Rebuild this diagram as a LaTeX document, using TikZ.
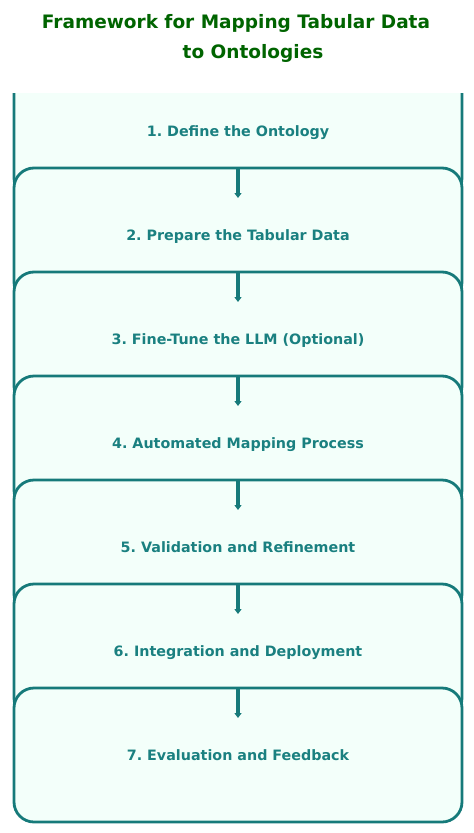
\documentclass[tikz,border=0pt]{standalone}
\usepackage{fontspec}
\setmainfont{DejaVu Sans}
\usepackage{tikz}
\usetikzlibrary{arrows.meta,positioning}
\definecolor{stageline}{RGB}{22,122,122}
\definecolor{stagetext}{RGB}{26,128,128}
\definecolor{stagefill}{RGB}{243,255,250}
\definecolor{titlegreen}{RGB}{0,100,0}
\frenchspacing

\begin{document}
\begin{tikzpicture}
	[ x=1pt, y=1pt, node distance=-30pt and 0mm,
		stage/.style={rectangle,rounded corners=20pt,draw=stageline,line width=2.8pt,fill=stagefill,minimum width=448pt,minimum height=134pt,outer sep=0pt,text height=10.5pt,text depth=0pt,text=stagetext,font=\fontsize{14.3}{17}\selectfont\bfseries},
		arrowDown/.style={-{Triangle[length=5pt,width=7pt]},draw=stageline,fill=stageline,line width=3.8pt}]
	\useasboundingbox (0,0) rectangle (474,-833);

	\node[stage] (define ontology) at (238,-131) {1. Define the Ontology};
	\node[stage] (prepare data) [below=of define ontology] {2. Prepare the Tabular Data};
	\node[stage] (fine tune) [below=of prepare data] {3. Fine-Tune the LLM (Optional)};
	\node[stage] (mapping) [below=of fine tune] {4. Automated Mapping Process};
	\node[stage] (validation) [below=of mapping] {5. Validation and Refinement};
	\node[stage] (integration) [below=of validation] {6. Integration and Deployment};
	\node[stage] (evaluation) [below=of integration] {7. Evaluation and Feedback};

	\draw[arrowDown] (prepare data.north) -- (define ontology.south);
	\draw[arrowDown] (fine tune.north) -- (prepare data.south);
	\draw[arrowDown] (mapping.north) -- (fine tune.south);
	\draw[arrowDown] (validation.north) -- (mapping.south);
	\draw[arrowDown] (integration.north) -- (validation.south);
	\draw[arrowDown] (evaluation.north) -- (integration.south);

	% white band over the top of the first stage
	\fill[white] (0,0) rectangle (474,-93);
	\node[text=titlegreen,font=\fontsize{18.5}{30}\selectfont\bfseries,align=center] (title) at (236,-38) {Framework for Mapping Tabular Data\\\hspace*{34pt}to Ontologies};
\end{tikzpicture}
\end{document}
